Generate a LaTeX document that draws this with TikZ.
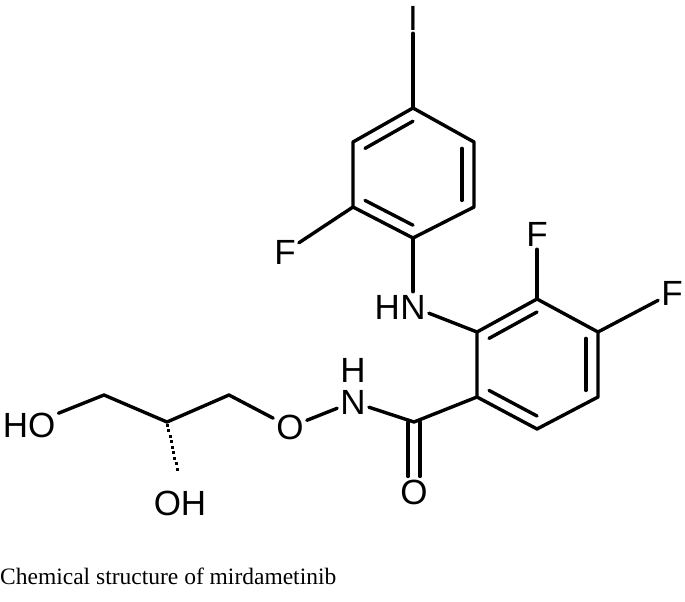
\documentclass[tikz,border=0pt]{standalone}
\usepackage{fontspec}
\setmainfont{Liberation Serif}
\setsansfont{Liberation Sans}
\usetikzlibrary{calc}
\begin{document}
\begin{tikzpicture}[x=1pt,y=-1pt,
  atom/.style={font=\sffamily\fontsize{35}{35}\selectfont,inner sep=3pt},
  bond/.style={line width=3.4pt,line cap=round,line join=round}]
\useasboundingbox (0,0) rectangle (685,602);
% top ring
\coordinate (a1) at (413,108); \coordinate (a2) at (474,142);
\coordinate (a3) at (474,207); \coordinate (a4) at (413,238);
\coordinate (a5) at (353,207); \coordinate (a6) at (353,142);
\coordinate (ac) at (413,174);
% bottom ring
\coordinate (b1) at (477,332); \coordinate (b2) at (537,299);
\coordinate (b3) at (598,332); \coordinate (b4) at (598,397);
\coordinate (b5) at (537,429); \coordinate (b6) at (477,397);
\coordinate (bc) at (537,364);
% chain
\coordinate (cc) at (414,422);
\coordinate (c1) at (104,395); \coordinate (c2) at (167,422); \coordinate (c3) at (229,395);
\node[atom] (I) at (413,18) {I};
\node[atom] (F1) at (285,252) {F};
\node[atom] (N1) at (413,307) {N};
\node[atom,anchor=east,inner sep=0pt] (H1) at ([xshift=3]N1.west) {H};
\node[atom] (F2) at (537,234) {F};
\node[atom] (F3) at (672,293) {F};
\node[atom] (O1) at (414,492) {O};
\node[atom] (N2) at (353,402) {N};
\node[atom] (H2) at (353,370) {H};
\node[atom] (O2) at (290,427) {O};
\node[atom] (HO) at (29,425) {HO};
\node[atom] (OH) at (180,503) {OH};
\coordinate (w) at (170,472);
\draw[bond] (a1)--(a2)--(a3)--(a4)--(a5)--(a6)--cycle;
\draw[bond] ($(a1)!0.2!(ac)$)--($(a6)!0.2!(ac)$);
\draw[bond] ($(a2)!0.2!(ac)$)--($(a3)!0.2!(ac)$);
\draw[bond] ($(a4)!0.2!(ac)$)--($(a5)!0.2!(ac)$);
\draw[bond] (b1)--(b2)--(b3)--(b4)--(b5)--(b6)--cycle;
\draw[bond] ($(b1)!0.2!(bc)$)--($(b2)!0.2!(bc)$);
\draw[bond] ($(b3)!0.2!(bc)$)--($(b4)!0.2!(bc)$);
\draw[bond] ($(b5)!0.2!(bc)$)--($(b6)!0.2!(bc)$);
\draw[bond] (a1)--(I);
\draw[bond] (a5)--(F1);
\draw[bond] (a4)--(N1);
\draw[bond] (N1)--(b1);
\draw[bond] (b2)--(F2);
\draw[bond] (b3)--(F3);
\draw[bond] (b6)--(cc)--(N2);
\draw[bond] ([xshift=-6]cc)--([xshift=-6]O1.north);
\draw[bond] ([xshift=6]cc)--([xshift=6]O1.north);
\draw[bond] (N2)--(O2);
\draw[bond] (O2)--(c3)--(c2)--(c1)--(HO);
\foreach \t in {0.06,0.17,...,1.0}{
  \draw[line width=3pt] ($(c2)!\t!(w)+(-{1.5+8*\t},0)$)--($(c2)!\t!(w)+({1.5+8*\t},0)$);
}
\node[anchor=west,inner sep=0pt,font=\fontsize{23.5}{24}\selectfont] (cap) at (0,576) {Chemical structure of mirdametinib};
\end{tikzpicture}
\end{document}
